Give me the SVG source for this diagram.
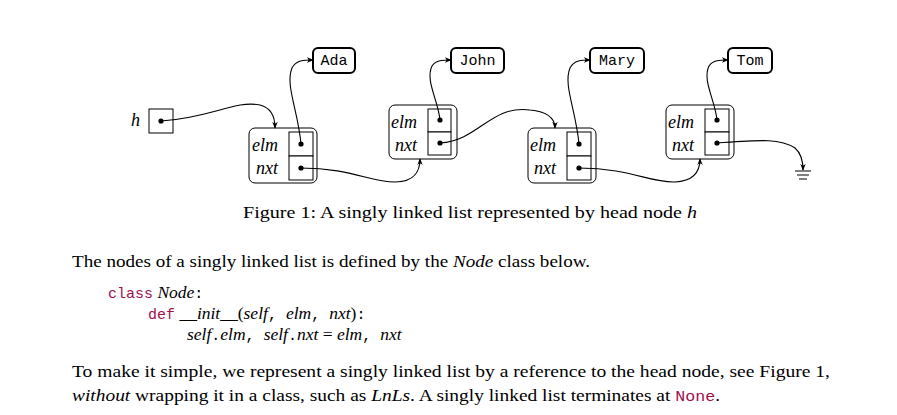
<svg xmlns="http://www.w3.org/2000/svg" width="897" height="415" viewBox="0 0 897 415">
<defs>
<marker id="ah" viewBox="0 0 10 10" refX="9" refY="5" markerWidth="7" markerHeight="7" orient="auto" markerUnits="userSpaceOnUse"><path d="M0,1 Q5,5 0,9 L10,5 Z" fill="#000"/></marker>
</defs>
<style>
.t{font-family:"Liberation Serif",serif;font-size:17.5px;fill:#000}
.n{font-family:"Liberation Serif",serif;font-size:18px;font-style:italic}
.i{font-style:italic}
.m{font-family:"Liberation Mono",monospace;font-size:15px}
.k{fill:#a0104e}
.ob{fill:#fff;stroke:#000;stroke-width:1}
.cell{fill:#fff;stroke:#000;stroke-width:1}
.val{fill:#fff;stroke:#000;stroke-width:2}
.c{fill:none;stroke:#000;stroke-width:1.1;marker-end:url(#ah)}
</style>
<rect width="897" height="415" fill="#fff"/>
<g id="h"><text class="n" x="131" y="126">h</text><rect class="cell" x="149" y="109" width="24" height="24"/><circle cx="161" cy="121" r="2.6"/></g>
<g id="n1"><rect class="ob" x="249" y="128" width="68" height="55" rx="6"/><text class="n" x="252" y="151">elm</text><text class="n" x="256" y="174">nxt</text><rect class="cell" x="289" y="132" width="24" height="24"/><rect class="cell" x="289" y="156" width="24" height="24"/><circle cx="301" cy="144" r="2.6"/><circle cx="301" cy="168" r="2.6"/></g>
<g id="n2"><rect class="ob" x="389" y="105" width="68" height="54" rx="6"/><text class="n" x="391" y="128">elm</text><text class="n" x="395" y="151">nxt</text><rect class="cell" x="428" y="109" width="23" height="23"/><rect class="cell" x="428" y="132" width="23" height="23"/><circle cx="440" cy="120" r="2.6"/><circle cx="440" cy="143" r="2.6"/></g>
<g id="n3"><rect class="ob" x="528" y="128" width="68" height="55" rx="6"/><text class="n" x="530" y="151">elm</text><text class="n" x="534" y="174">nxt</text><rect class="cell" x="567" y="132" width="24" height="24"/><rect class="cell" x="567" y="156" width="24" height="24"/><circle cx="579" cy="144" r="2.6"/><circle cx="579" cy="168" r="2.6"/></g>
<g id="n4"><rect class="ob" x="666" y="105" width="68" height="54" rx="6"/><text class="n" x="668" y="128">elm</text><text class="n" x="672" y="151">nxt</text><rect class="cell" x="705" y="109" width="24" height="23"/><rect class="cell" x="705" y="132" width="24" height="23"/><circle cx="717" cy="120" r="2.6"/><circle cx="717" cy="143" r="2.6"/></g>
<g id="vAda"><rect class="val" x="313" y="48" width="42" height="25" rx="5"/><text class="m" x="334" y="65" text-anchor="middle">Ada</text></g>
<g id="vJohn"><rect class="val" x="451" y="48" width="53" height="25" rx="5"/><text class="m" x="477.5" y="65" text-anchor="middle">John</text></g>
<g id="vMary"><rect class="val" x="590" y="48" width="54" height="25" rx="5"/><text class="m" x="617" y="65" text-anchor="middle">Mary</text></g>
<g id="vTom"><rect class="val" x="728" y="48" width="44" height="25" rx="5"/><text class="m" x="750" y="65" text-anchor="middle">Tom</text></g>
<g id="ground" stroke="#000" stroke-width="1"><line x1="795" y1="171" x2="811" y2="171"/><line x1="797" y1="175" x2="809" y2="175"/><line x1="799" y1="179" x2="807" y2="179"/></g>
<g id="connectors">
<path class="c" d="M161,121 C210,118 235,100 260,105 C272,108 275,118 275,128"/>
<path class="c" d="M301,144 C298,110 285,85 292,68 C296,60 304,60 313,60"/>
<path class="c" d="M301,168 C350,168 370,182 395,182 C415,182 420,170 420,159"/>
<path class="c" d="M440,120 C438,100 425,80 432,66 C436,60 443,60 451,60"/>
<path class="c" d="M440,143 C480,140 490,105 530,110 C550,112 555,120 555,128"/>
<path class="c" d="M579,144 C576,110 563,85 570,68 C574,60 582,60 590,60"/>
<path class="c" d="M579,168 C630,168 650,183 675,182 C695,181 700,170 700,159"/>
<path class="c" d="M717,120 C715,100 702,80 709,66 C713,60 720,60 728,60"/>
<path class="c" d="M717,143 C760,140 780,138 795,148 C802,154 803,162 803,170"/>
</g>
<text class="t" x="243" y="218" textLength="454" lengthAdjust="spacingAndGlyphs">Figure 1: A singly linked list represented by head node <tspan class="i">h</tspan></text>
<text class="t" x="72" y="267" textLength="518" lengthAdjust="spacingAndGlyphs">The nodes of a singly linked list is defined by the <tspan class="i">Node</tspan> class below.</text>
<text class="t" x="108" y="298"><tspan class="m k">class</tspan> <tspan class="i">Node</tspan><tspan class="m">:</tspan></text>
<text class="t" x="148" y="319"><tspan class="m k">def</tspan> <tspan class="i">__init__</tspan>(<tspan class="i">self</tspan><tspan class="m">, </tspan><tspan class="i">elm</tspan><tspan class="m">, </tspan><tspan class="i">nxt</tspan>)<tspan class="m">:</tspan></text>
<text class="t" x="187" y="340"><tspan class="i">self</tspan><tspan class="m">.</tspan><tspan class="i">elm</tspan><tspan class="m">, </tspan><tspan class="i">self</tspan><tspan class="m">.</tspan><tspan class="i">nxt</tspan> = <tspan class="i">elm</tspan><tspan class="m">, </tspan><tspan class="i">nxt</tspan></text>
<text class="t" x="72" y="377" textLength="758" lengthAdjust="spacingAndGlyphs">To make it simple, we represent a singly linked list by a reference to the head node, see Figure 1,</text>
<text class="t" x="72" y="401" textLength="648" lengthAdjust="spacingAndGlyphs"><tspan class="i">without</tspan> wrapping it in a class, such as <tspan class="i">LnLs</tspan>. A singly linked list terminates at <tspan class="m k">None</tspan>.</text>
</svg>
